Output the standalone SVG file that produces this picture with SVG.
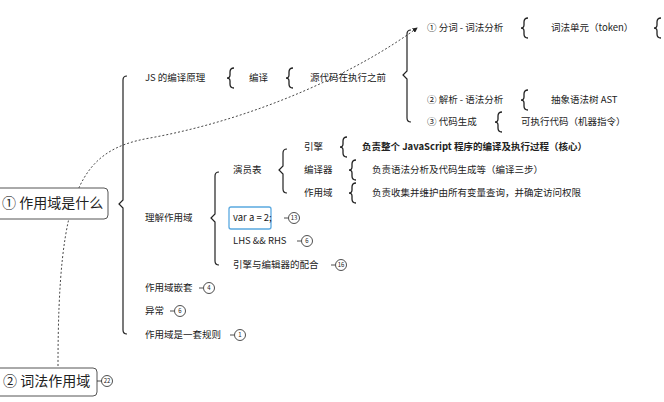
<svg xmlns="http://www.w3.org/2000/svg" xmlns:xlink="http://www.w3.org/1999/xlink" width="664" height="402" viewBox="0 0 664 402">
<style>
text{font-family:"Noto Sans CJK SC","Noto Sans",sans-serif;font-size:9.5px;fill:#222;dominant-baseline:middle}
.big{font-size:14px}
.br{fill:none;stroke:#222;stroke-width:1.2}
.bd{fill:#fff;stroke:#222;stroke-width:0.8}
.bt{font-size:6px;text-anchor:middle}
.ln{stroke:#222;stroke-width:0.8}
</style>
<defs>
<marker id="ar" markerWidth="6" markerHeight="6" refX="5" refY="3" orient="auto"><path d="M0,0L6,3L0,6z" fill="#222"/></marker>
<path id="brace" d="M4,-10 Q0,-10 0,-6 L0,-3 Q0,0 -3,0 Q0,0 0,3 L0,6 Q0,10 4,10" fill="none" stroke="#222" stroke-width="1.3"/>
</defs>
<rect width="664" height="402" fill="#fff"/>
<g id="connectors">
<path d="M58,366 C58,190 80,150 150,138 C260,118 360,70 417,28" fill="none" stroke="#333" stroke-width="0.9" stroke-dasharray="2,2" marker-end="url(#ar)"/>
<path class="br" d="M127,76 Q123,76 123,80 L123,200 L119,204 L123,208 L123,330 Q123,334 127,334"/>
<path class="br" d="M411,30 Q407,30 407,34 L407,71 L403,75 L407,79 L407,118 Q407,122 411,122"/>
<path class="br" d="M219,172 Q215,172 215,176 L215,214 L211,218 L215,222 L215,261 Q215,265 219,265"/>
<path class="br" d="M287,149 Q283,149 283,153 L283,166 L279,170 L283,174 L283,189 Q283,193 287,193"/>
<use href="#brace" xlink:href="#brace" x="230" y="78"/>
<use href="#brace" xlink:href="#brace" x="289" y="78"/>
<use href="#brace" xlink:href="#brace" x="524" y="28"/>
<use href="#brace" xlink:href="#brace" x="657" y="28"/>
<use href="#brace" xlink:href="#brace" x="524" y="100"/>
<use href="#brace" xlink:href="#brace" x="498" y="122"/>
<use href="#brace" xlink:href="#brace" x="343" y="147"/>
<use href="#brace" xlink:href="#brace" x="352" y="170"/>
<use href="#brace" xlink:href="#brace" x="352" y="193"/>
</g>
<g id="n1"><rect x="-10" y="188" width="118" height="31" rx="4" fill="#fff" stroke="#555"/><text x="2" y="204" class="big">① 作用域是什么</text></g>
<g id="n2"><rect x="-10" y="368" width="107" height="28" rx="4" fill="#fff" stroke="#555"/><text x="3" y="382" class="big">② 词法作用域</text>
<line class="ln" x1="97" y1="381" x2="102" y2="381"/><circle class="bd" cx="107" cy="381" r="5.5"/><text class="bt" x="107" y="381.5">22</text></g>
<g id="js"><text x="145" y="78">JS 的编译原理</text><text x="249" y="78">编译</text><text x="310" y="78">源代码在执行之前</text></g>
<g id="s1"><text x="427" y="28">① 分词 - 词法分析</text><text x="551" y="28">词法单元（token）</text></g>
<g id="s2"><text x="427" y="100">② 解析 - 语法分析</text><text x="551" y="100">抽象语法树 AST</text></g>
<g id="s3"><text x="427" y="122">③ 代码生成</text><text x="521" y="122">可执行代码（机器指令）</text></g>
<g id="u"><text x="145" y="218">理解作用域</text></g>
<g id="cast"><text x="233" y="170">演员表</text></g>
<g id="e"><text x="304" y="147">引擎</text><text x="362" y="147" font-weight="bold">负责整个 JavaScript 程序的编译及执行过程（核心）</text></g>
<g id="c"><text x="304" y="170">编译器</text><text x="372" y="170">负责语法分析及代码生成等（编译三步）</text></g>
<g id="sc"><text x="304" y="193">作用域</text><text x="372" y="193">负责收集并维护由所有变量查询，并确定访问权限</text></g>
<g id="va"><rect x="229" y="207" width="42" height="22" rx="2" fill="#fff" stroke="#5aa9e0" stroke-width="1.3"/><text x="233" y="218">var a = 2;</text>
<line class="ln" x1="284" y1="218" x2="288" y2="218"/><circle class="bd" cx="294" cy="218" r="5.5"/><text class="bt" x="294" y="218.5">13</text></g>
<g id="lhs"><text x="233" y="241">LHS &amp;&amp; RHS</text><line class="ln" x1="297" y1="241" x2="301" y2="241"/><circle class="bd" cx="307" cy="241" r="5.5"/><text class="bt" x="307" y="241.5">6</text></g>
<g id="co"><text x="233" y="265">引擎与编辑器的配合</text><line class="ln" x1="331" y1="265" x2="335" y2="265"/><circle class="bd" cx="341" cy="265" r="5.5"/><text class="bt" x="341" y="265.5">16</text></g>
<g id="nest"><text x="145" y="288">作用域嵌套</text><line class="ln" x1="199" y1="288" x2="203" y2="288"/><circle class="bd" cx="209" cy="288" r="5.5"/><text class="bt" x="209" y="288.5">4</text></g>
<g id="ex"><text x="145" y="311">异常</text><line class="ln" x1="170" y1="311" x2="174" y2="311"/><circle class="bd" cx="180" cy="311" r="5.5"/><text class="bt" x="180" y="311.5">6</text></g>
<g id="rule"><text x="145" y="335">作用域是一套规则</text><line class="ln" x1="230" y1="335" x2="234" y2="335"/><circle class="bd" cx="240" cy="335" r="5.5"/><text class="bt" x="240" y="335.5">1</text></g>
</svg>
